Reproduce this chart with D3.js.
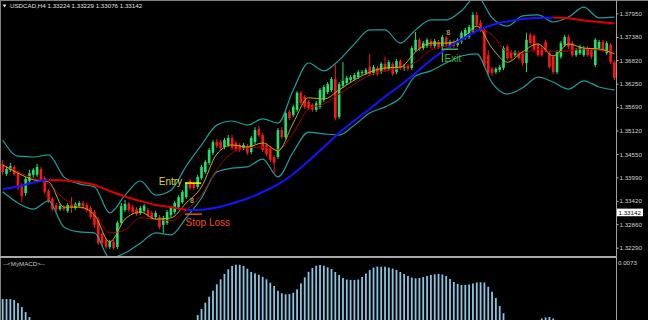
<!DOCTYPE html>
<html>
<head>
<meta charset="utf-8">
<script src="https://cdn.jsdelivr.net/npm/d3@7"></script>
<style>
  html, body { margin: 0; padding: 0; background: #000; }
  svg { display: block; }
  text { font-family: "Liberation Sans", Arial, sans-serif; }
</style>
</head>
<body>
<svg id="chart"></svg>
<script>
// USDCAD H4 candles (bar 0 = left edge)
const open = [1.3431,1.3407,1.3417,1.3424,1.3409,1.3380,1.3361,1.3390,1.3405,1.3405,
  1.3419,1.3397,1.3366,1.3347,1.3332,1.3322,1.3327,1.3318,1.3332,1.3325,
  1.3330,1.3337,1.3332,1.3325,1.3315,1.3298,1.3262,1.3248,1.3231,1.3243,
  1.3231,1.3289,1.3320,1.3335,1.3327,1.3322,1.3313,1.3318,1.3320,1.3313,
  1.3303,1.3303,1.3284,1.3289,1.3308,1.3315,1.3327,1.3339,1.3351,1.3390,
  1.3383,1.3376,1.3397,1.3412,1.3434,1.3458,1.3484,1.3484,1.3472,1.3477,
  1.3494,1.3482,1.3477,1.3470,1.3475,1.3460,1.3484,1.3516,1.3501,1.3477,
  1.3470,1.3448,1.3448,1.3513,1.3496,1.3557,1.3549,1.3562,1.3603,1.3593,
  1.3581,1.3574,1.3562,1.3569,1.3586,1.3605,1.3610,1.3636,1.3545,1.3620,
  1.3627,1.3634,1.3636,1.3641,1.3651,1.3651,1.3665,1.3651,1.3663,1.3653,
  1.3673,1.3661,1.3673,1.3653,1.3680,1.3663,1.3668,1.3663,1.3706,1.3731,
  1.3711,1.3716,1.3728,1.3716,1.3726,1.3714,1.3735,1.3716,1.3726,1.3719,
  1.3726,1.3735,1.3738,1.3750,1.3791,1.3772,1.3755,1.3694,1.3661,1.3653,
  1.3658,1.3663,1.3714,1.3702,1.3694,1.3699,1.3697,1.3675,1.3743,1.3740,
  1.3719,1.3711,1.3726,1.3699,1.3690,1.3653,1.3690,1.3719,1.3738,1.3723,
  1.3694,1.3699,1.3694,1.3711,1.3706,1.3670,1.3711,1.3726,1.3699,1.3719,
  1.3677];
const high = [1.3441,1.3424,1.3434,1.3429,1.3414,1.3385,1.3400,1.3417,1.3421,1.3431,
  1.3424,1.3402,1.3371,1.3351,1.3337,1.3335,1.3332,1.3337,1.3351,1.3339,
  1.3342,1.3342,1.3337,1.3330,1.3320,1.3303,1.3267,1.3252,1.3248,1.3248,
  1.3294,1.3337,1.3344,1.3339,1.3332,1.3327,1.3330,1.3335,1.3325,1.3318,
  1.3318,1.3308,1.3306,1.3320,1.3330,1.3342,1.3356,1.3368,1.3388,1.3395,
  1.3388,1.3405,1.3429,1.3441,1.3470,1.3489,1.3492,1.3489,1.3494,1.3501,
  1.3501,1.3487,1.3482,1.3482,1.3479,1.3499,1.3520,1.3523,1.3506,1.3482,
  1.3475,1.3453,1.3518,1.3520,1.3559,1.3562,1.3574,1.3607,1.3607,1.3598,
  1.3586,1.3578,1.3583,1.3615,1.3622,1.3629,1.3641,1.3670,1.3629,1.3677,
  1.3644,1.3646,1.3651,1.3658,1.3658,1.3663,1.3697,1.3670,1.3668,1.3677,
  1.3690,1.3682,1.3677,1.3685,1.3685,1.3673,1.3673,1.3716,1.3750,1.3735,
  1.3728,1.3735,1.3733,1.3733,1.3731,1.3743,1.3740,1.3731,1.3731,1.3735,
  1.3752,1.3760,1.3767,1.3798,1.3798,1.3779,1.3760,1.3706,1.3665,1.3665,
  1.3670,1.3716,1.3719,1.3706,1.3706,1.3704,1.3702,1.3748,1.3748,1.3745,
  1.3723,1.3716,1.3731,1.3704,1.3694,1.3706,1.3728,1.3743,1.3743,1.3728,
  1.3711,1.3719,1.3716,1.3716,1.3711,1.3735,1.3731,1.3731,1.3728,1.3723,
  1.3682];
const low = [1.3405,1.3402,1.3412,1.3402,1.3368,1.3339,1.3354,1.3385,1.3397,1.3400,
  1.3388,1.3359,1.3337,1.3318,1.3315,1.3318,1.3318,1.3313,1.3313,1.3320,
  1.3325,1.3325,1.3315,1.3298,1.3277,1.3236,1.3233,1.3226,1.3226,1.3224,
  1.3226,1.3284,1.3315,1.3315,1.3310,1.3306,1.3308,1.3313,1.3303,1.3296,
  1.3296,1.3274,1.3265,1.3284,1.3303,1.3310,1.3322,1.3335,1.3347,1.3368,
  1.3368,1.3371,1.3393,1.3407,1.3429,1.3453,1.3470,1.3465,1.3467,1.3472,
  1.3465,1.3463,1.3460,1.3465,1.3453,1.3455,1.3479,1.3496,1.3460,1.3450,
  1.3436,1.3409,1.3443,1.3492,1.3492,1.3537,1.3545,1.3557,1.3574,1.3564,
  1.3562,1.3557,1.3557,1.3564,1.3581,1.3600,1.3605,1.3537,1.3540,1.3615,
  1.3622,1.3629,1.3632,1.3636,1.3646,1.3646,1.3644,1.3646,1.3644,1.3648,
  1.3653,1.3656,1.3644,1.3648,1.3658,1.3656,1.3656,1.3658,1.3702,1.3704,
  1.3706,1.3711,1.3711,1.3711,1.3709,1.3677,1.3714,1.3711,1.3711,1.3714,
  1.3721,1.3731,1.3733,1.3745,1.3762,1.3750,1.3663,1.3646,1.3644,1.3648,
  1.3653,1.3658,1.3682,1.3682,1.3690,1.3682,1.3668,1.3653,1.3719,1.3702,
  1.3690,1.3690,1.3702,1.3661,1.3648,1.3648,1.3685,1.3714,1.3709,1.3690,
  1.3690,1.3694,1.3690,1.3690,1.3685,1.3665,1.3706,1.3702,1.3694,1.3673,
  1.3634];
const close = [1.3412,1.3419,1.3426,1.3407,1.3378,1.3354,1.3395,1.3409,1.3417,1.3424,
  1.3393,1.3364,1.3342,1.3322,1.3322,1.3330,1.3322,1.3332,1.3325,1.3335,
  1.3337,1.3330,1.3320,1.3303,1.3284,1.3240,1.3240,1.3231,1.3243,1.3228,
  1.3289,1.3330,1.3335,1.3320,1.3315,1.3310,1.3325,1.3330,1.3308,1.3301,
  1.3313,1.3279,1.3301,1.3315,1.3325,1.3337,1.3351,1.3364,1.3383,1.3373,
  1.3373,1.3400,1.3424,1.3436,1.3465,1.3484,1.3475,1.3470,1.3489,1.3494,
  1.3470,1.3467,1.3465,1.3477,1.3458,1.3494,1.3513,1.3501,1.3465,1.3455,
  1.3441,1.3434,1.3513,1.3496,1.3554,1.3542,1.3569,1.3603,1.3578,1.3569,
  1.3566,1.3562,1.3578,1.3610,1.3617,1.3624,1.3636,1.3542,1.3624,1.3632,
  1.3639,1.3641,1.3646,1.3653,1.3653,1.3658,1.3648,1.3665,1.3648,1.3673,
  1.3658,1.3677,1.3648,1.3680,1.3663,1.3668,1.3661,1.3711,1.3731,1.3709,
  1.3723,1.3731,1.3716,1.3728,1.3714,1.3738,1.3719,1.3726,1.3716,1.3731,
  1.3748,1.3755,1.3762,1.3791,1.3767,1.3755,1.3668,1.3651,1.3651,1.3661,
  1.3665,1.3711,1.3687,1.3687,1.3702,1.3687,1.3675,1.3731,1.3723,1.3706,
  1.3694,1.3694,1.3706,1.3665,1.3653,1.3702,1.3723,1.3738,1.3714,1.3694,
  1.3706,1.3714,1.3711,1.3694,1.3690,1.3731,1.3726,1.3706,1.3723,1.3677,
  1.3639];

// indicator lines, read every 4th bar
const lineBars = [0,4,8,12,16,20,24,28,32,36,40,44,48,52,56,60,64,68,72,76,
  80,84,88,92,96,100,104,108,112,116,120,124,128,132,136,140,144,148,152,156,160];
const bandUpper = [1.3489,1.3450,1.3448,1.3453,1.3400,1.3383,1.3376,1.3313,1.3356,1.3390,
  1.3356,1.3368,1.3426,1.3477,1.3525,1.3535,1.3525,1.3540,1.3530,1.3610,
  1.3675,1.3656,1.3682,1.3721,1.3755,1.3755,1.3723,1.3755,1.3779,1.3779,
  1.3801,1.3837,1.3784,1.3764,1.3789,1.3791,1.3774,1.3786,1.3810,1.3784,1.3786];
const bandLower = [1.3364,1.3337,1.3322,1.3342,1.3279,1.3267,1.3265,1.3204,1.3216,1.3240,
  1.3265,1.3260,1.3301,1.3349,1.3412,1.3421,1.3424,1.3443,1.3400,1.3460,
  1.3508,1.3504,1.3501,1.3525,1.3554,1.3569,1.3591,1.3644,1.3656,1.3675,
  1.3692,1.3697,1.3627,1.3600,1.3615,1.3641,1.3629,1.3612,1.3632,1.3617,1.3610];
const trendMA = [1.33708,1.33768,1.33865,1.33925,1.33913,1.33877,1.33804,1.33660,1.33527,1.33418,
  1.33322,1.33273,1.33201,1.33208,1.33261,1.33358,1.33478,1.33635,1.33817,1.34070,
  1.34384,1.34722,1.35060,1.35362,1.35640,1.35942,1.36207,1.36509,1.36823,1.37089,
  1.37318,1.37523,1.37668,1.37753,1.37813,1.37837,1.37847,1.37828,1.37777,1.37741,1.37705];
const fastMA = [1.3429,1.3409,1.3393,1.3388,1.3327,1.3327,1.3308,1.3243,1.3298,1.3315,
  1.3298,1.3301,1.3337,1.3376,1.3455,1.3477,1.3472,1.3482,1.3463,1.3530,
  1.3591,1.3588,1.3610,1.3634,1.3653,1.3663,1.3665,1.3702,1.3723,1.3723,
  1.3733,1.3764,1.3711,1.3677,1.3702,1.3721,1.3692,1.3721,1.3711,1.3709,1.3697];
const slowMA = [1.3429,1.3412,1.3397,1.3383,1.3347,1.3327,1.3310,1.3265,1.3272,1.3301,
  1.3298,1.3294,1.3320,1.3356,1.3417,1.3458,1.3470,1.3472,1.3465,1.3506,
  1.3564,1.3576,1.3600,1.3624,1.3646,1.3656,1.3663,1.3677,1.3706,1.3716,
  1.3728,1.3757,1.3743,1.3702,1.3699,1.3709,1.3702,1.3704,1.3709,1.3706,1.3702];

// MyMACD histogram, one value per bar (most of the low part is below the picture)
const macd = [0.00369,0.00369,0.00369,0.00360,0.00333,0.00297,0.00252,0.00207,
  0.0015,0.0012,0.0010,0.0007,0.0003,-0.0001,-0.0004,-0.0006,-0.0008,-0.0009,
  -0.0010,-0.0010,-0.0010,-0.0010,-0.0011,-0.0013,-0.0016,-0.0021,-0.0025,-0.0028,
  -0.0029,-0.0030,-0.0026,-0.0020,-0.0016,-0.0013,-0.0011,-0.0010,-0.0010,-0.0010,
  -0.0010,-0.0010,-0.0010,-0.0010,-0.0009,-0.0008,-0.0006,-0.0004,-0.0001,0.0003,
  0.0007,0.0012,0.0017,
  0.00225,0.00279,0.00336,0.00390,0.00444,0.00502,0.00547,0.00595,0.00637,0.00667,
  0.00678,0.00678,0.00667,0.00642,0.00613,0.00601,0.00588,0.00570,0.00547,0.00516,
  0.00487,0.00444,0.00421,0.00412,0.00414,0.00426,0.00457,0.00511,0.00565,0.00615,
  0.00649,0.00669,0.00676,0.00669,0.00655,0.00640,0.00613,0.00586,0.00559,0.00545,
  0.00541,0.00541,0.00545,0.00568,0.00599,0.00631,0.00653,0.00662,0.00660,0.00660,
  0.00653,0.00644,0.00631,0.00613,0.00595,0.00577,0.00563,0.00556,0.00559,0.00568,
  0.00577,0.00586,0.00592,0.00595,0.00590,0.00577,0.00550,0.00523,0.00505,0.00496,
  0.00496,0.00500,0.00509,0.00518,0.00520,0.00518,0.00480,0.00435,0.00378,0.00306,
  0.00241,0.0017,0.0013,0.0010,0.0008,0.0007,0.0009,0.0012,0.0014,0.0016,
  0.00194,0.00203,0.00207,0.00194,0.0017,0.0016,0.0016,0.0015,0.0013,0.0012,
  0.0011,0.0010,0.0009,0.0008,0.0009,0.0010,0.0010,0.0010,0.0008,0.0005];

// price axis labels as MT4 prints them
const priceTicks = [1.37950,1.37380,1.36820,1.36250,1.35690,1.35120,1.34550,1.33990,1.33420,1.32860,1.32290];
const lastPrice = 1.33142;
const macdTop = 0.0073;
const headerSymbol = "USDCAD,H4";
const headerValues = ["1.33224","1.33229","1.33076","1.33142"];

// trade marks drawn on the chart
const entryMark = { from: 47.7, to: 51.9, price: 1.3385, label: "Entry" };
const stopMark = { from: 47.7, to: 52.1, price: 1.3310, label: "Stop Loss" };
const exitMark = { from: 114.8, to: 119.1, price: 1.37082, label: "Exit" };
const arrowMarks = [ { bar: 49.5, price: 1.3344 }, { bar: 116.5, price: 1.3748 } ];

window.onload = function () {
    drawChart();
};

function drawChart() {
    const width = 648, height = 320;
    const plotRight = 616;
    const mainBottom = 256;
    const subTop = 258;

    const upColor = "#22e06e", downColor = "#ff1414";
    const bandColor = "#229c9c";

    const svg = d3.select("#chart")
        .attr("width", width)
        .attr("height", height);

    svg.append("rect").attr("width", width).attr("height", height).attr("fill", "#000");

    const defs = svg.append("defs");
    defs.append("clipPath").attr("id", "clipMain")
        .append("rect").attr("x", 1).attr("y", 1).attr("width", plotRight - 1).attr("height", mainBottom - 1);
    defs.append("clipPath").attr("id", "clipSub")
        .append("rect").attr("x", 1).attr("y", subTop + 1).attr("width", plotRight - 1).attr("height", height - subTop);

    // scales
    const x = d3.scaleLinear().domain([0, close.length - 1]).range([2.7, 614.4]);
    const y = d3.scaleLinear().domain([1.32290, 1.37950]).range([247.7, 13.3]);
    const yMacd = d3.scaleLinear().domain([0, macdTop]).range([340, 259]);

    const main = svg.append("g").attr("clip-path", "url(#clipMain)");

    // candles
    const bars = d3.range(close.length);
    const candle = main.append("g").selectAll("g")
        .data(bars)
        .join("g")
        .attr("fill", i => close[i] >= open[i] ? upColor : downColor)
        .attr("stroke", i => close[i] >= open[i] ? upColor : downColor);

    candle.append("line")
        .attr("x1", i => x(i)).attr("x2", i => x(i))
        .attr("y1", i => y(high[i])).attr("y2", i => y(low[i]))
        .attr("stroke-width", 1);

    candle.append("rect")
        .attr("x", i => x(i) - 1.3)
        .attr("width", 2.6)
        .attr("y", i => y(Math.max(open[i], close[i])))
        .attr("height", i => Math.max(1, Math.abs(y(open[i]) - y(close[i]))))
        .attr("stroke", "none");

    // indicator lines
    const line = d3.line()
        .x((d, k) => x(lineBars[k]))
        .y(d => y(d))
        .curve(d3.curveMonotoneX);

    main.append("path").datum(bandUpper).attr("d", line)
        .attr("fill", "none").attr("stroke", bandColor).attr("stroke-width", 1.2);
    main.append("path").datum(bandLower).attr("d", line)
        .attr("fill", "none").attr("stroke", bandColor).attr("stroke-width", 1.2);
    main.append("path").datum(slowMA).attr("d", line)
        .attr("fill", "none").attr("stroke", "#a50000").attr("stroke-width", 1);
    main.append("path").datum(fastMA).attr("d", line)
        .attr("fill", "none").attr("stroke", "#c8b000").attr("stroke-width", 1);

    // trend MA: blue while rising, red while falling
    const trendLine = d3.line()
        .x(k => x(lineBars[k]))
        .y(k => y(trendMA[k]))
        .curve(d3.curveMonotoneX);
    let runs = [];
    for (let k = 0; k < trendMA.length - 1; k++) {
        let up = trendMA[k + 1] >= trendMA[k];
        let last = runs[runs.length - 1];
        if (last && last.up === up) last.idx.push(k + 1);
        else runs.push({ up: up, idx: [k, k + 1] });
    }
    main.append("g").selectAll("path")
        .data(runs)
        .join("path")
        .attr("d", r => trendLine(r.idx))
        .attr("fill", "none")
        .attr("stroke", r => r.up ? "#1414ff" : "#e00000")
        .attr("stroke-width", 2);

    // trade marks
    const marks = main.append("g");
    marks.append("line")
        .attr("x1", x(entryMark.from)).attr("x2", x(entryMark.to))
        .attr("y1", y(entryMark.price)).attr("y2", y(entryMark.price))
        .attr("stroke", "#ffff00").attr("stroke-width", 1.5);
    marks.append("text")
        .attr("x", x(entryMark.from) - 3).attr("y", y(entryMark.price) + 1.5)
        .attr("text-anchor", "end").attr("font-size", "10px").attr("fill", "#dcdc1e")
        .text(entryMark.label);

    marks.append("line")
        .attr("x1", x(stopMark.from)).attr("x2", x(stopMark.to))
        .attr("y1", y(stopMark.price)).attr("y2", y(stopMark.price))
        .attr("stroke", "#f05020").attr("stroke-width", 1.5);
    marks.append("text")
        .attr("x", x(stopMark.from) + 0.5).attr("y", y(stopMark.price) + 12)
        .attr("font-size", "10px").attr("fill", "#f05020")
        .text(stopMark.label);

    marks.append("line")
        .attr("x1", x(exitMark.from)).attr("x2", x(exitMark.to))
        .attr("y1", y(exitMark.price)).attr("y2", y(exitMark.price))
        .attr("stroke", "#3cb83c").attr("stroke-width", 1.5);
    marks.append("text")
        .attr("x", x(exitMark.from) + 3).attr("y", y(exitMark.price) + 12.5)
        .attr("font-size", "10px").attr("fill", "#3cb83c")
        .text(exitMark.label);

    marks.selectAll("text.arrow")
        .data(arrowMarks)
        .join("text")
        .attr("class", "arrow")
        .attr("x", d => x(d.bar)).attr("y", d => y(d.price) + 2.5)
        .attr("text-anchor", "middle").attr("font-size", "7px").attr("font-weight", "bold")
        .attr("fill", "#b09a3a")
        .text("8");

    // MACD histogram
    svg.append("g").attr("clip-path", "url(#clipSub)")
        .selectAll("rect")
        .data(macd)
        .join("rect")
        .attr("x", (d, i) => x(i) - 0.9)
        .attr("width", 1.8)
        .attr("y", d => Math.min(yMacd(d), yMacd(0)))
        .attr("height", d => Math.abs(yMacd(d) - yMacd(0)))
        .attr("fill", "#86c5e3");

    // frame and separators
    svg.append("line").attr("x1", 0).attr("x2", width).attr("y1", 0.5).attr("y2", 0.5)
        .attr("stroke", "#808080");
    svg.append("line").attr("x1", 0.5).attr("x2", 0.5).attr("y1", 0).attr("y2", height)
        .attr("stroke", "#808080");
    svg.append("line").attr("x1", 0).attr("x2", plotRight).attr("y1", 257).attr("y2", 257)
        .attr("stroke", "#a8a8a8").attr("stroke-width", 2);

    // price axis
    const axis = svg.append("g")
        .attr("transform", `translate(${plotRight + 0.5},0)`)
        .call(d3.axisRight(y).tickValues(priceTicks).tickFormat(d3.format(".5f")).tickSize(2).tickPadding(1));
    axis.select(".domain").remove();
    axis.selectAll("line").attr("stroke", "#c0c0c0");
    axis.selectAll("text").attr("fill", "#d0d0d0").attr("font-size", "6.2px")
        .attr("font-family", "Liberation Sans, Arial, sans-serif");
    svg.append("line").attr("x1", plotRight + 0.5).attr("x2", plotRight + 0.5)
        .attr("y1", 0).attr("y2", height).attr("stroke", "#a0a0a0");

    // last price box
    const yLast = y(lastPrice);
    svg.append("rect").attr("x", plotRight + 1).attr("y", yLast - 3.8)
        .attr("width", 26).attr("height", 7.6).attr("fill", "#ffffff");
    svg.append("text").attr("x", plotRight + 2.5).attr("y", yLast + 2.2)
        .attr("font-size", "6.2px").attr("fill", "#000")
        .text(d3.format(".5f")(lastPrice));

    // sub window max label and name
    svg.append("text").attr("x", plotRight + 2).attr("y", yMacd(macdTop) + 6)
        .attr("font-size", "6.2px").attr("fill", "#d0d0d0")
        .text(macdTop.toString());
    svg.append("text").attr("x", 3).attr("y", 266)
        .attr("font-size", "6.2px").attr("fill", "#c8c8c8")
        .text("--<MyMACD>--");

    // header
    svg.append("path").attr("d", "M2.5,4.5 L6.5,4.5 L4.5,7.5 Z").attr("fill", "#e0e0e0");
    svg.append("text").attr("x", 10).attr("y", 8.2)
        .attr("font-size", "6.2px").attr("fill", "#e0e0e0")
        .text(headerSymbol + "  " + headerValues.join(" "));
}
</script>
</body>
</html>
